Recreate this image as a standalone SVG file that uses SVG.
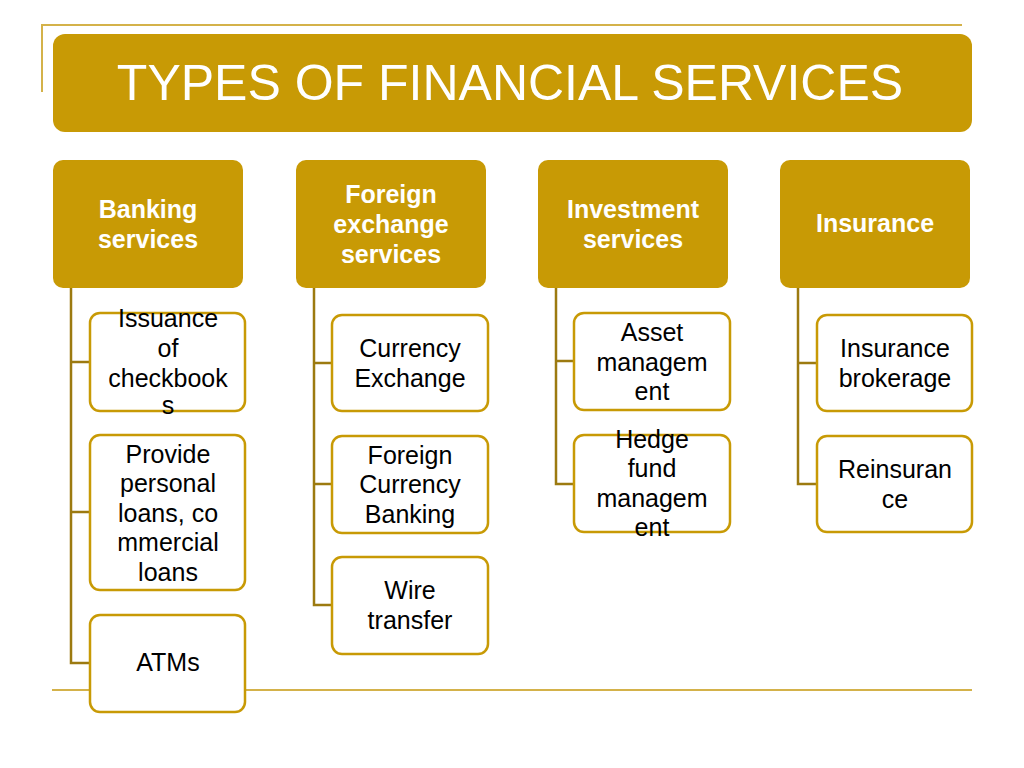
<svg xmlns="http://www.w3.org/2000/svg" width="1024" height="768" viewBox="0 0 1024 768">
<style>
.hd{fill:#C89A05}
.ch{fill:#fff;stroke:#C89A05;stroke-width:2.5}
.ht{font-family:"Liberation Sans",Arial,sans-serif;font-weight:bold;font-size:25px;fill:#fff;text-anchor:middle}
.ct{font-family:"Liberation Sans",Arial,sans-serif;font-size:25px;fill:#000;text-anchor:middle}
.ln{stroke:#9C7A10;stroke-width:2.5;fill:none}
</style>
<rect width="1024" height="768" fill="#fff"/>
<g id="frame" stroke="#D4B24A" stroke-width="2" fill="none">
<path d="M42 92V25H962"/>
<path d="M52 690H972"/>
</g>
<g id="title"><rect x="53" y="34" width="919" height="98" rx="12" class="hd"/>
<text x="510" y="100" font-family="Liberation Sans,Arial,sans-serif" font-size="50" fill="#fff" text-anchor="middle">TYPES OF FINANCIAL SERVICES</text></g>
<g id="connectors" class="ln">
<path d="M71 288V663H90M71 362H90M71 512H90"/>
<path d="M314 288V605H332M314 363H332M314 484H332"/>
<path d="M556 288V484H574M556 361H574"/>
<path d="M798 288V484H817M798 363H817"/>
</g>
<g id="h1"><rect x="53" y="160" width="190" height="128" rx="10" class="hd"/><text class="ht" x="148" y="218">Banking</text><text class="ht" x="148" y="248">services</text></g>
<g id="h2"><rect x="296" y="160" width="190" height="128" rx="10" class="hd"/><text class="ht" x="391" y="203">Foreign</text><text class="ht" x="391" y="233">exchange</text><text class="ht" x="391" y="263">services</text></g>
<g id="h3"><rect x="538" y="160" width="190" height="128" rx="10" class="hd"/><text class="ht" x="633" y="218">Investment</text><text class="ht" x="633" y="248">services</text></g>
<g id="h4"><rect x="780" y="160" width="190" height="128" rx="10" class="hd"/><text class="ht" x="875" y="232">Insurance</text></g>
<g id="c11"><rect x="90" y="313" width="155" height="98" rx="10" class="ch"/><text class="ct" x="168" y="327">Issuance</text><text class="ct" x="168" y="357">of</text><text class="ct" x="168" y="387">checkbook</text><text class="ct" x="168" y="414">s</text></g>
<g id="c12"><rect x="90" y="435" width="155" height="155" rx="10" class="ch"/><text class="ct" x="168" y="463">Provide</text><text class="ct" x="168" y="492">personal</text><text class="ct" x="168" y="522">loans, co</text><text class="ct" x="168" y="551">mmercial</text><text class="ct" x="168" y="581">loans</text></g>
<g id="c13"><rect x="90" y="615" width="155" height="97" rx="10" class="ch"/><text class="ct" x="168" y="671">ATMs</text></g>
<g id="c21"><rect x="332" y="315" width="156" height="96" rx="10" class="ch"/><text class="ct" x="410" y="357">Currency</text><text class="ct" x="410" y="387">Exchange</text></g>
<g id="c22"><rect x="332" y="436" width="156" height="97" rx="10" class="ch"/><text class="ct" x="410" y="464">Foreign</text><text class="ct" x="410" y="493">Currency</text><text class="ct" x="410" y="523">Banking</text></g>
<g id="c23"><rect x="332" y="557" width="156" height="97" rx="10" class="ch"/><text class="ct" x="410" y="599">Wire</text><text class="ct" x="410" y="629">transfer</text></g>
<g id="c31"><rect x="574" y="313" width="156" height="97" rx="10" class="ch"/><text class="ct" x="652" y="341">Asset</text><text class="ct" x="652" y="371">managem</text><text class="ct" x="652" y="400">ent</text></g>
<g id="c32"><rect x="574" y="435" width="156" height="97" rx="10" class="ch"/><text class="ct" x="652" y="448">Hedge</text><text class="ct" x="652" y="477">fund</text><text class="ct" x="652" y="507">managem</text><text class="ct" x="652" y="536">ent</text></g>
<g id="c41"><rect x="817" y="315" width="155" height="96" rx="10" class="ch"/><text class="ct" x="895" y="357">Insurance</text><text class="ct" x="895" y="387">brokerage</text></g>
<g id="c42"><rect x="817" y="436" width="155" height="96" rx="10" class="ch"/><text class="ct" x="895" y="478">Reinsuran</text><text class="ct" x="895" y="508">ce</text></g>
</svg>
